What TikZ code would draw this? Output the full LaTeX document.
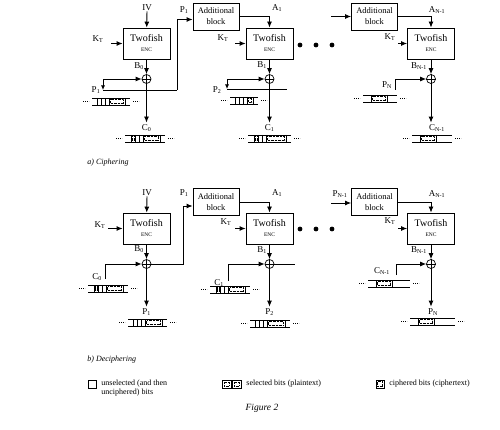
\documentclass[tikz,border=0pt]{standalone}
\usepackage{fontspec}
\setmainfont{Liberation Serif}
\usetikzlibrary{arrows.meta,calc}
\newcommand{\regends}[3]{\draw[line width=0.5pt, dash pattern=on 0.6pt off 1.4pt] (#1-9,#3+3.5) -- (#1-3,#3+3.5) (#2+3,#3+3.5) -- (#2+9,#3+3.5);}
\newcommand{\regP}[3]{%
  \draw (#1,#3) -- (#2,#3) (#1,#3+7) -- (#2,#3+7);
  \foreach \d in {5,9,13,17} {\draw (#1+\d,#3) -- (#1+\d,#3+7);}
  \draw (#2-5,#3) -- (#2-5,#3+7);
  \draw[densely dotted, line width=0.4pt] (#1+18.5,#3+1.5) rectangle (#2-6.5,#3+5.5);
  \regends{#1}{#2}{#3}}
\newcommand{\regC}[3]{%
  \draw (#1,#3) -- (#2,#3) (#1,#3+7) -- (#2,#3+7);
  \foreach \d in {6,10,14,18} {\draw (#1+\d,#3) -- (#1+\d,#3+7);}
  \draw[densely dotted, line width=0.4pt] (#1+7,#3+1.5) rectangle (#1+9,#3+5.5);
  \draw (#2-5,#3) -- (#2-5,#3+7);
  \draw[densely dotted, line width=0.4pt] (#1+19.5,#3+1.5) rectangle (#2-6.5,#3+5.5);
  \regends{#1}{#2}{#3}}
\newcommand{\regN}[3]{%
  \draw (#1,#3) -- (#2,#3) (#1,#3+7) -- (#2,#3+7);
  \draw (#1+8,#3) -- (#1+8,#3+7) (#1+24,#3) -- (#1+24,#3+7);
  \draw[densely dotted, line width=0.4pt] (#1+9.5,#3+1.5) rectangle (#1+22.5,#3+5.5);
  \regends{#1}{#2}{#3}}
\newcommand{\xorat}[2]{\node[xo] (#1) at (#2) {}; \draw[line width=0.7pt] (#1.north) -- (#1.south) (#1.west) -- (#1.east);}
\tikzset{
  tf/.style={draw, minimum width=47, minimum height=31, inner sep=0, align=center, font=\fontsize{10}{11}\selectfont},
  ab/.style={draw, minimum width=46, minimum height=27, inner sep=0, align=center, font=\fontsize{8.5}{11}\selectfont},
  xo/.style={draw, circle, minimum size=9, inner sep=0, line width=0.7pt},
  lbl/.style={font=\fontsize{9}{9}\selectfont, inner sep=0},
  captext/.style={font=\fontsize{8}{8}\selectfont\itshape, inner sep=0, anchor=west},
  leg/.style={font=\fontsize{8}{9}\selectfont, inner sep=0, anchor=west, align=left},
  arr/.style={-{Latex[length=6pt,width=5pt]}},
  darr/.style={{Latex[length=4.5pt,width=4pt]}-{Latex[length=6pt,width=5pt]}},
  bigdot/.style={circle, fill, inner sep=0, minimum size=4.8}
}
\newcommand{\tfx}{Twofish\\[-1pt]{\fontsize{5.5}{6}\selectfont ENC}}
\begin{document}
\begin{tikzpicture}[x=1pt,y=-1pt,line width=0.85pt]
\useasboundingbox[fill=white] (0,0) rectangle (500,430);

% ================= a) Ciphering =================
% stage 1
\node[lbl] (iv1) at (147,8) {IV};
\node[tf] (E1) at (146.5,43.5) {\tfx};
\draw[arr] (iv1) -- (E1);
\node[lbl] (kt1) at (98,39) {K\textsubscript{T}};
\coordinate (kt1s) at (111,43.5);
\draw[arr] (kt1s) -- (E1.west);
\node[lbl] (b0a) at (139,66) {B\textsubscript{0}};
\xorat{X1}{146.5,79}
\draw[arr] (E1) -- (X1);
\coordinate (j1) at (103,90);
\node[lbl] (p1a) at (96,90) {P\textsubscript{1}};
\draw[darr] (j1) |- (X1.west);
\node[ab] (A1) at (216,16.5) {Additional\\block};
\coordinate (t1) at (177,90);
\draw (j1) -- (t1);
\draw[arr] (t1) |- ($(A1.west)+(0,3)$);
\node[lbl] (p1t) at (184,10) {P\textsubscript{1}};
\node[lbl] (c0a) at (146.5,128) {C\textsubscript{0}};
\draw[arr, shorten >=1.5pt] (X1) -- (c0a);
\regP{92}{130}{98}
\regC{125}{165}{135}

% stage 2
\node[lbl] (a1a) at (277,8) {A\textsubscript{1}};
\node[tf] (E2) at (269.5,43.5) {\tfx};
\draw[arr] (A1.east) -| (E2.north);
\node[lbl] (kt2) at (223,38) {K\textsubscript{T}};
\coordinate (kt2s) at (235,43.5);
\draw[arr] (kt2s) -- (E2.west);
\node[lbl] (b1a) at (262,65) {B\textsubscript{1}};
\xorat{X2}{269.5,79}
\draw[arr] (E2) -- (X2);
\coordinate (j2) at (227,89);
\node[lbl] (p2a) at (217,90) {P\textsubscript{2}};
\draw[darr] (j2) |- (X2.west);
\coordinate (j2e) at (287,89);
\draw (j2) -- (j2e);
\node[lbl] (c1a) at (269.5,128) {C\textsubscript{1}};
\draw[arr, shorten >=1.5pt] (X2) -- (c1a);
\regP{230}{258}{97}
\regC{248}{291}{135}

% dots
\node[bigdot] (d1) at (300,45) {};
\node[bigdot] (d2) at (316,45) {};
\node[bigdot] (d3) at (332,45) {};

% stage N
\coordinate (a3in) at (331,16.5);
\node[ab] (A3) at (374.5,16.5) {Additional\\block};
\draw[arr] (a3in) -- (A3.west);
\node[lbl] (ana) at (437,10) {A\textsubscript{N-1}};
\node[tf] (E3) at (431,43.5) {\tfx};
\draw[arr] (A3.east) -| (E3.north);
\node[lbl] (kt3) at (390,37) {K\textsubscript{T}};
\coordinate (kt3s) at (398,43.5);
\draw[arr] (kt3s) -- (E3.west);
\node[lbl] (bna) at (419,66) {B\textsubscript{N-1}};
\xorat{X3}{431,79}
\draw[arr] (E3) -- (X3);
\coordinate (jN) at (395,90);
\node[lbl] (pna) at (387,85) {P\textsubscript{N}};
\draw[arr] (jN) |- (X3.west);
\node[lbl] (cna) at (437,128) {C\textsubscript{N-1}};
\draw[arr, shorten >=1.5pt] (X3) -- (X3 |- cna.north);
\regN{363}{397}{95}
\regN{412}{452}{135}

\node[captext] (capa) at (87,163) {a) Ciphering};

% ================= b) Deciphering =================
% stage 1
\node[lbl] (iv2) at (147,193) {IV};
\node[tf] (E4) at (146.5,228.5) {\tfx};
\draw[arr] (iv2) -- (E4);
\node[lbl] (kt4) at (100,225) {K\textsubscript{T}};
\coordinate (kt4s) at (108,228.5);
\draw[arr] (kt4s) -- (E4.west);
\node[lbl] (b0b) at (139,249) {B\textsubscript{0}};
\xorat{X4}{146.5,264}
\draw[arr] (E4) -- (X4);
\coordinate (jc0) at (105,279);
\node[lbl] (c0b) at (97,277) {C\textsubscript{0}};
\draw[arr] (jc0) |- (X4.west);
\node[ab] (A4) at (216,202) {Additional\\block};
\coordinate (t4) at (183,264);
\draw[arr] (X4.east) -- (t4) |- ($(A4.west)+(0,4)$);
\node[lbl] (p1bt) at (184,193) {P\textsubscript{1}};
\node[lbl] (p1b) at (146.5,312) {P\textsubscript{1}};
\draw[arr, shorten >=1.5pt] (X4) -- (p1b);
\regC{88}{128}{285}
\regP{128}{167}{319}

% stage 2
\node[lbl] (a1b) at (277,193) {A\textsubscript{1}};
\node[tf] (E5) at (269.5,228.5) {\tfx};
\draw[arr] (A4.east) -| (E5.north);
\node[lbl] (kt5) at (226,222) {K\textsubscript{T}};
\coordinate (kt5s) at (235,228.5);
\draw[arr] (kt5s) -- (E5.west);
\node[lbl] (b1b) at (262,250) {B\textsubscript{1}};
\xorat{X5}{269.5,264}
\draw[arr] (E5) -- (X5);
\coordinate (jc1) at (228,281);
\node[lbl] (c1b) at (219,283) {C\textsubscript{1}};
\draw[arr] (jc1) |- (X5.west);
\coordinate (x5e) at (295,264);
\draw (X5.east) -- (x5e);
\node[lbl] (p2b) at (269.5,312) {P\textsubscript{2}};
\draw[arr, shorten >=1.5pt] (X5) -- (p2b);
\regC{210}{250}{286}
\regP{250}{290}{320}

% dots
\node[bigdot] (d4) at (300,229) {};
\node[bigdot] (d5) at (316,229) {};
\node[bigdot] (d6) at (332,229) {};

% stage N
\node[lbl] (pn1b) at (340,194) {P\textsubscript{N-1}};
\coordinate (a6in) at (331,203);
\node[ab] (A6) at (374.5,202) {Additional\\block};
\draw[arr] (a6in) -- (A6.west |- a6in);
\node[lbl] (anb) at (437,194) {A\textsubscript{N-1}};
\node[tf] (E6) at (431,228.5) {\tfx};
\draw[arr] (A6.east) -| (E6.north);
\node[lbl] (kt6) at (390,221) {K\textsubscript{T}};
\coordinate (kt6s) at (398,228.5);
\draw[arr] (kt6s) -- (E6.west);
\node[lbl] (bnb) at (419,250) {B\textsubscript{N-1}};
\xorat{X6}{431,264}
\draw[arr] (E6) -- (X6);
\coordinate (jcn) at (396,275);
\node[lbl] (cnb) at (382,271) {C\textsubscript{N-1}};
\draw[arr] (jcn) |- (X6.west);
\node[lbl] (pnb) at (433,312) {P\textsubscript{N}};
\draw[arr, shorten >=1.5pt] (X6) -- (X6 |- pnb.north);
\regN{368}{410}{280}
\regN{410}{455}{318}

\node[captext] (capb) at (87,360) {b) Deciphering};

% ================= legend =================
\draw[line width=0.7pt] (88,380) rectangle (96,388);
\node[leg] (l1) at (101,388) {unselected (and then\\unciphered) bits};
\draw[line width=0.7pt] (222,380) rectangle (231,388) (232,380) rectangle (241,388);
\draw[densely dotted, line width=0.4pt] (224,382) rectangle (229,386) (234,382) rectangle (239,386);
\node[leg] (l2) at (246,384) {selected bits (plaintext)};
\draw[line width=0.7pt] (376,380) rectangle (384,388);
\draw[densely dotted, line width=0.4pt] (377.5,381.5) rectangle (382.5,386.5);
\node[leg] (l3) at (389,384) {ciphered bits (ciphertext)};

\node[font=\fontsize{9.5}{10}\selectfont\itshape, inner sep=0] (fig) at (262,408) {Figure 2};
\end{tikzpicture}
\end{document}
